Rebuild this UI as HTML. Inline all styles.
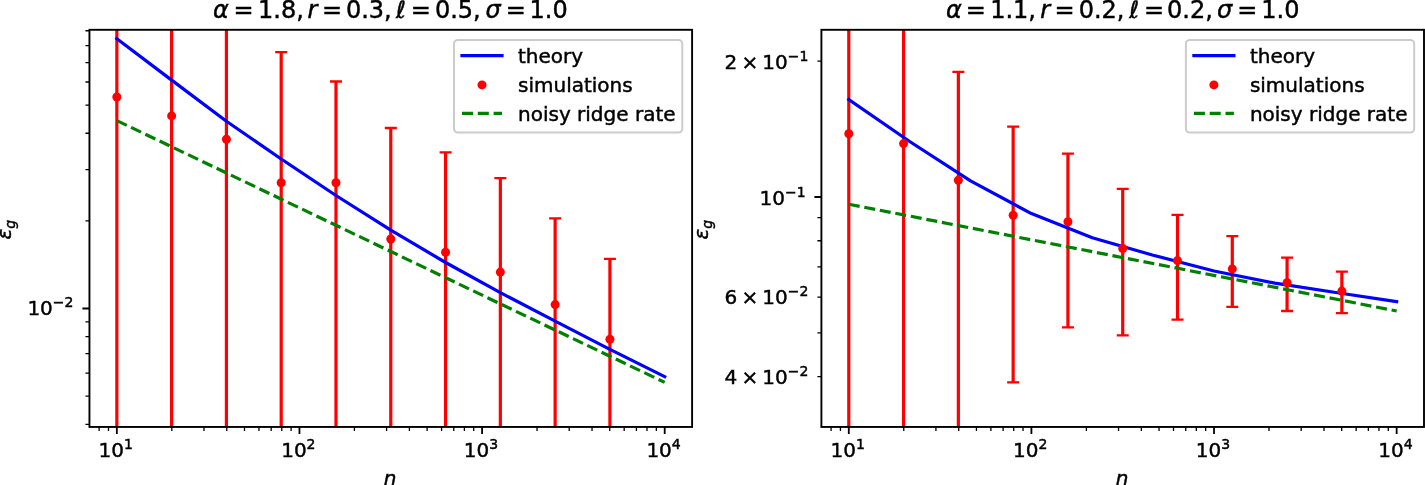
<!DOCTYPE html>
<html lang="en"><head><meta charset="utf-8"><title>theory vs simulations</title>
<style>
html,body{margin:0;padding:0;background:#fff;}
body{width:1425px;height:485px;overflow:hidden;}
svg{display:block;}
text{font-family:"DejaVu Sans","Liberation Sans",sans-serif;fill:#000;stroke:#000;stroke-width:0.45px;}
.i{font-style:italic;}
.t{font-size:20px;}
.s{font-size:14px;}
.T{font-size:24px;}
</style></head><body>
<svg width="1425" height="485" viewBox="0 0 1425 485">
<rect x="0" y="0" width="1425" height="485" fill="#fff"/>
<defs><clipPath id="clipL"><rect x="89.45" y="29.8" width="602.65" height="397.15"/></clipPath></defs>
<g clip-path="url(#clipL)">
<path d="M116.84 9.8V446.95M171.63 9.8V446.95M226.41 9.8V446.95M281.2 52.2V446.95M335.98 81.5V446.95M390.77 128V446.95M445.56 152.3V446.95M500.34 178.1V446.95M555.13 218.4V446.95M609.91 258.8V446.95" stroke="#f00" stroke-width="3.2" fill="none"/>
<polyline points="116.84,38.7 171.63,80.1 226.41,121.2 281.2,159 335.98,195.5 390.77,230.1 445.56,262.5 500.34,292.7 555.13,321.1 609.91,349.4 664.7,376.6" stroke="#00f" stroke-width="3.2" fill="none" stroke-linejoin="round" stroke-linecap="square"/>
<circle cx="116.84" cy="97" r="4.5" fill="#f00"/>
<circle cx="171.63" cy="115.9" r="4.5" fill="#f00"/>
<circle cx="226.41" cy="139.2" r="4.5" fill="#f00"/>
<circle cx="281.2" cy="182.7" r="4.5" fill="#f00"/>
<circle cx="335.98" cy="182.8" r="4.5" fill="#f00"/>
<circle cx="390.77" cy="239" r="4.5" fill="#f00"/>
<circle cx="445.56" cy="252.2" r="4.5" fill="#f00"/>
<circle cx="500.34" cy="272.1" r="4.5" fill="#f00"/>
<circle cx="555.13" cy="304.6" r="4.5" fill="#f00"/>
<circle cx="609.91" cy="339.3" r="4.5" fill="#f00"/>
<path d="M275.2 52.2H287.2M329.98 81.5H341.98M384.77 128H396.77M439.56 152.3H451.56M494.34 178.1H506.34M549.13 218.4H561.13M603.91 258.8H615.91" stroke="#f00" stroke-width="2.3" fill="none"/>
<line x1="116.84" y1="120.6" x2="664.7" y2="382.4" stroke="#008000" stroke-width="3.2" stroke-dasharray="11.03 4.77"/>
</g>
<path d="M116.84 426.95v7M299.46 426.95v7M482.08 426.95v7M664.7 426.95v7M89.45 308.5h-7" stroke="#000" stroke-width="1.8" fill="none"/>
<path d="M99.14 426.95v4M108.48 426.95v4M171.81 426.95v4M203.97 426.95v4M226.79 426.95v4M244.49 426.95v4M258.95 426.95v4M271.17 426.95v4M281.76 426.95v4M291.1 426.95v4M354.43 426.95v4M386.59 426.95v4M409.41 426.95v4M427.11 426.95v4M441.57 426.95v4M453.79 426.95v4M464.38 426.95v4M473.72 426.95v4M537.05 426.95v4M569.21 426.95v4M592.03 426.95v4M609.73 426.95v4M624.19 426.95v4M636.41 426.95v4M647 426.95v4M656.34 426.95v4M89.45 424.32h-4M89.45 396.11h-4M89.45 373.07h-4M89.45 353.58h-4M89.45 336.71h-4M89.45 321.82h-4M89.45 220.89h-4M89.45 169.63h-4M89.45 133.27h-4M89.45 105.06h-4M89.45 82.02h-4M89.45 62.53h-4M89.45 45.66h-4M89.45 30.77h-4" stroke="#000" stroke-width="1.3" fill="none"/>
<rect x="89.45" y="29.8" width="602.65" height="397.15" fill="none" stroke="#000" stroke-width="1.9"/>
<text class="t" x="98.54" y="456.8">10<tspan class="s" dx="0" dy="-8">1</tspan></text>
<text class="t" x="281.16" y="456.8">10<tspan class="s" dx="0" dy="-8">2</tspan></text>
<text class="t" x="463.78" y="456.8">10<tspan class="s" dx="0" dy="-8">3</tspan></text>
<text class="t" x="646.4" y="456.8">10<tspan class="s" dx="0" dy="-8">4</tspan></text>
<text class="t i" x="390.08" y="485.4" text-anchor="middle">n</text>
<rect x="454" y="39.9" width="228.3" height="92.7" rx="4" ry="4" fill="#fff" fill-opacity="0.8" stroke="#ccc" stroke-width="2"/>
<line x1="462" y1="55.7" x2="502" y2="55.7" stroke="#00f" stroke-width="3.2" stroke-linecap="square"/>
<circle cx="482" cy="84.9" r="4.5" fill="#f00"/>
<line x1="462" y1="113.3" x2="502" y2="113.3" stroke="#008000" stroke-width="3.2" stroke-dasharray="11.03 4.77"/>
<text class="t" x="518" y="62.5">theory</text>
<text class="t" x="518" y="91.8">simulations</text>
<text class="t" x="518" y="120.9">noisy ridge rate</text>
<defs><clipPath id="clipR"><rect x="821.4" y="29.8" width="602.6" height="397.15"/></clipPath></defs>
<g clip-path="url(#clipR)">
<path d="M848.79 9.8V446.95M903.58 9.8V446.95M958.36 71.9V446.95M1013.15 126.6V382.4M1067.93 153.7V327.4M1122.72 188.8V335.3M1177.51 214.8V319.6M1232.29 236.2V306.9M1287.08 257.6V311M1341.86 271.6V313.1" stroke="#f00" stroke-width="3.2" fill="none"/>
<polyline points="848.79,99.6 909.66,141.5 970.54,180.9 1031.41,213.6 1092.28,237.8 1153.16,255.2 1214.03,271 1274.9,283.1 1335.78,292.5 1396.65,301.6" stroke="#00f" stroke-width="3.2" fill="none" stroke-linejoin="round" stroke-linecap="square"/>
<circle cx="848.79" cy="133.7" r="4.5" fill="#f00"/>
<circle cx="903.58" cy="143.6" r="4.5" fill="#f00"/>
<circle cx="958.36" cy="180.2" r="4.5" fill="#f00"/>
<circle cx="1013.15" cy="215.3" r="4.5" fill="#f00"/>
<circle cx="1067.93" cy="221.8" r="4.5" fill="#f00"/>
<circle cx="1122.72" cy="248.5" r="4.5" fill="#f00"/>
<circle cx="1177.51" cy="260.6" r="4.5" fill="#f00"/>
<circle cx="1232.29" cy="268.9" r="4.5" fill="#f00"/>
<circle cx="1287.08" cy="282.8" r="4.5" fill="#f00"/>
<circle cx="1341.86" cy="291.1" r="4.5" fill="#f00"/>
<path d="M952.36 71.9H964.36M1007.15 126.6H1019.15M1007.15 382.4H1019.15M1061.93 153.7H1073.93M1061.93 327.4H1073.93M1116.72 188.8H1128.72M1116.72 335.3H1128.72M1171.51 214.8H1183.51M1171.51 319.6H1183.51M1226.29 236.2H1238.29M1226.29 306.9H1238.29M1281.08 257.6H1293.08M1281.08 311H1293.08M1335.86 271.6H1347.86M1335.86 313.1H1347.86" stroke="#f00" stroke-width="2.3" fill="none"/>
<line x1="848.79" y1="204.2" x2="1396.65" y2="311" stroke="#008000" stroke-width="3.2" stroke-dasharray="11.03 4.77"/>
</g>
<path d="M848.79 426.95v7M1031.41 426.95v7M1214.03 426.95v7M1396.65 426.95v7M821.4 197h-7" stroke="#000" stroke-width="1.8" fill="none"/>
<path d="M831.09 426.95v4M840.43 426.95v4M903.76 426.95v4M935.92 426.95v4M958.74 426.95v4M976.44 426.95v4M990.9 426.95v4M1003.12 426.95v4M1013.71 426.95v4M1023.05 426.95v4M1086.38 426.95v4M1118.54 426.95v4M1141.36 426.95v4M1159.06 426.95v4M1173.52 426.95v4M1185.74 426.95v4M1196.33 426.95v4M1205.67 426.95v4M1269 426.95v4M1301.16 426.95v4M1323.98 426.95v4M1341.68 426.95v4M1356.14 426.95v4M1368.36 426.95v4M1378.95 426.95v4M1388.29 426.95v4M821.4 376.59h-4M821.4 332.85h-4M821.4 297.12h-4M821.4 266.91h-4M821.4 240.74h-4M821.4 217.65h-4M821.4 61.15h-4" stroke="#000" stroke-width="1.3" fill="none"/>
<rect x="821.4" y="29.8" width="602.6" height="397.15" fill="none" stroke="#000" stroke-width="1.9"/>
<text class="t" x="830.49" y="456.8">10<tspan class="s" dx="0" dy="-8">1</tspan></text>
<text class="t" x="1013.11" y="456.8">10<tspan class="s" dx="0" dy="-8">2</tspan></text>
<text class="t" x="1195.73" y="456.8">10<tspan class="s" dx="0" dy="-8">3</tspan></text>
<text class="t" x="1378.35" y="456.8">10<tspan class="s" dx="0" dy="-8">4</tspan></text>
<text class="t i" x="1122" y="485.4" text-anchor="middle">n</text>
<rect x="1185.9" y="39.9" width="228.3" height="92.7" rx="4" ry="4" fill="#fff" fill-opacity="0.8" stroke="#ccc" stroke-width="2"/>
<line x1="1193.9" y1="55.7" x2="1233.9" y2="55.7" stroke="#00f" stroke-width="3.2" stroke-linecap="square"/>
<circle cx="1213.9" cy="84.9" r="4.5" fill="#f00"/>
<line x1="1193.9" y1="113.3" x2="1233.9" y2="113.3" stroke="#008000" stroke-width="3.2" stroke-dasharray="11.03 4.77"/>
<text class="t" x="1249.9" y="62.5">theory</text>
<text class="t" x="1249.9" y="91.8">simulations</text>
<text class="t" x="1249.9" y="120.9">noisy ridge rate</text>
<text class="t" x="27.4" y="315.3">10<tspan class="s" dx="0" dy="-8">−2</tspan></text>
<text class="t" x="759.5" y="205">10<tspan class="s" dx="0" dy="-8">−1</tspan></text>
<text class="t" x="724.6" y="69.2">2<tspan dx="4.2">×</tspan><tspan dx="4.0">10</tspan><tspan class="s" dx="0" dy="-8">−1</tspan></text>
<text class="t" x="724.6" y="304.2">6<tspan dx="4.2">×</tspan><tspan dx="4.0">10</tspan><tspan class="s" dx="0" dy="-8">−2</tspan></text>
<text class="t" x="724.6" y="383.9">4<tspan dx="4.2">×</tspan><tspan dx="4.0">10</tspan><tspan class="s" dx="0" dy="-8">−2</tspan></text>
<text class="t i" transform="translate(11,239.6) rotate(-90)">ε<tspan class="s" dy="4.0">g</tspan></text>
<text class="t i" transform="translate(708.2,239.6) rotate(-90)">ε<tspan class="s" dy="4.0">g</tspan></text>
<text class="T" y="17.5"><tspan x="213.1" class="i">α</tspan><tspan x="233.6">=</tspan><tspan x="258">1.8,</tspan><tspan x="307.5" class="i">r</tspan><tspan x="321.9">=</tspan><tspan x="345.9">0.3,</tspan><tspan x="396" class="i">ℓ</tspan><tspan x="410.7">=</tspan><tspan x="434.9">0.5,</tspan><tspan x="485.5" class="i">σ</tspan><tspan x="505.7">=</tspan><tspan x="529.5">1.0</tspan></text>
<text class="T" y="17.5"><tspan x="946.1" class="i">α</tspan><tspan x="965.7">=</tspan><tspan x="990.2">1.1,</tspan><tspan x="1040.3" class="i">r</tspan><tspan x="1054.5">=</tspan><tspan x="1078.7">0.2,</tspan><tspan x="1129.2" class="i">ℓ</tspan><tspan x="1143.9">=</tspan><tspan x="1167.1">0.2,</tspan><tspan x="1217.1" class="i">σ</tspan><tspan x="1237.3">=</tspan><tspan x="1261.3">1.0</tspan></text>
</svg></body></html>
